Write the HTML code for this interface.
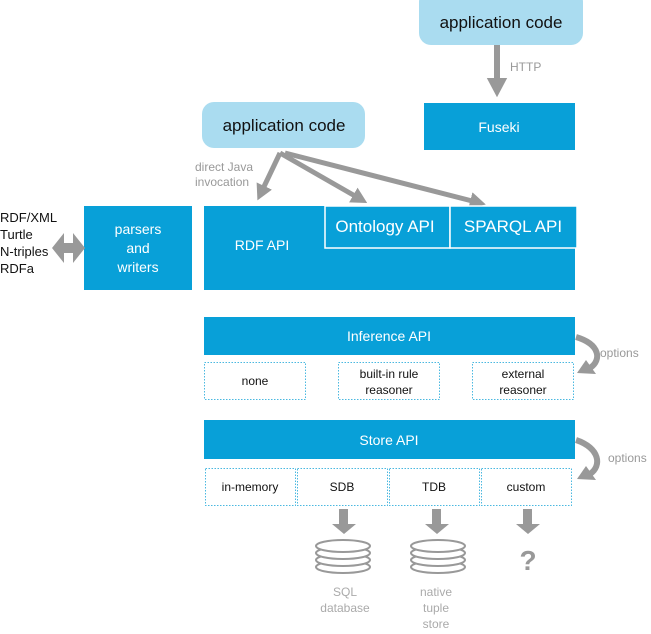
<!DOCTYPE html>
<html><head><meta charset="utf-8"><style>
body{margin:0;width:651px;height:629px;background:#fff;overflow:hidden;font-family:"Liberation Sans",sans-serif}
</style></head><body>
<svg width="651" height="629" xmlns="http://www.w3.org/2000/svg" font-family="Liberation Sans, sans-serif">
<defs>
<marker id="ah" markerWidth="4" markerHeight="4" refX="2" refY="2" orient="auto" markerUnits="strokeWidth"><path d="M0,0.3 L3.2,2 L0,3.7z" fill="#999"/></marker>
</defs>
<rect x="419" y="-10" width="164" height="55" rx="12" fill="#aadcf0"/>
<text x="501" y="28" font-size="17" text-anchor="middle" fill="#111">application code</text>
<line x1="497" y1="45" x2="497" y2="90" stroke="#999" stroke-width="6" marker-end="url(#ah)"/>
<text x="510" y="71" font-size="12" fill="#999">HTTP</text>
<rect x="424" y="103" width="151" height="47" fill="#08a0d8"/>
<text x="499" y="132" font-size="14" text-anchor="middle" fill="#fff">Fuseki</text>
<rect x="202" y="102" width="163" height="46" rx="12" fill="#aadcf0"/>
<text x="284" y="131" font-size="17" text-anchor="middle" fill="#111">application code</text>
<text x="195" y="171" font-size="12" fill="#999">direct Java</text>
<text x="195" y="186" font-size="12" fill="#999">invocation</text>
<line x1="280" y1="153" x2="260" y2="195" stroke="#999" stroke-width="5" marker-end="url(#ah)"/>
<line x1="280" y1="153" x2="362" y2="200" stroke="#999" stroke-width="5" marker-end="url(#ah)"/>
<line x1="285" y1="153" x2="480" y2="203" stroke="#999" stroke-width="5" marker-end="url(#ah)"/>
<rect x="204" y="206" width="371" height="84" fill="#08a0d8"/>
<rect x="325" y="206" width="125" height="42" fill="#08a0d8" stroke="#fff" stroke-width="1.5"/>
<rect x="450" y="206" width="127" height="42" fill="#08a0d8" stroke="#fff" stroke-width="1.5"/>
<text x="262" y="250" font-size="14" text-anchor="middle" fill="#fff">RDF API</text>
<text x="385" y="232" font-size="17" text-anchor="middle" fill="#fff">Ontology API</text>
<text x="513" y="232" font-size="17" text-anchor="middle" fill="#fff">SPARQL API</text>
<rect x="84" y="206" width="108" height="84" fill="#08a0d8"/>
<text x="138" y="234" font-size="14" text-anchor="middle" fill="#fff">parsers</text>
<text x="138" y="253" font-size="14" text-anchor="middle" fill="#fff">and</text>
<text x="138" y="272" font-size="14" text-anchor="middle" fill="#fff">writers</text>
<g font-size="13" fill="#111">
<text x="0" y="222">RDF/XML</text><text x="0" y="239">Turtle</text><text x="0" y="256">N-triples</text><text x="0" y="273">RDFa</text>
</g>
<path d="M52,248 L64,233 L64,243 L73,243 L73,233 L85,248 L73,263 L73,253 L64,253 L64,263z" fill="#999"/>
<rect x="204" y="317" width="371" height="38" fill="#08a0d8"/>
<text x="389" y="341" font-size="14" text-anchor="middle" fill="#fff">Inference API</text>
<g fill="none" stroke="#4ab8e0" stroke-dasharray="1.5,1.5" stroke-width="1">
<rect x="204.5" y="362.5" width="101" height="37"/><rect x="338.5" y="362.5" width="101" height="37"/><rect x="472.5" y="362.5" width="101" height="37"/>
<rect x="205.5" y="468.5" width="90" height="37"/><rect x="297.5" y="468.5" width="90" height="37"/><rect x="389.5" y="468.5" width="90" height="37"/><rect x="481.5" y="468.5" width="90" height="37"/>
</g>
<g font-size="12" fill="#111" text-anchor="middle">
<text x="255" y="385">none</text>
<text x="389" y="378">built-in rule</text><text x="389" y="394">reasoner</text>
<text x="523" y="378">external</text><text x="523" y="394">reasoner</text>
<text x="250" y="491">in-memory</text><text x="342" y="491">SDB</text><text x="434" y="491">TDB</text><text x="526" y="491">custom</text>
</g>
<path d="M576,337 C600,344 602,360 590,368" fill="none" stroke="#999" stroke-width="6"/>
<path d="M577,373 L586,360 L596,374z" fill="#999"/>
<text x="600" y="357" font-size="12" fill="#999">options</text>
<rect x="204" y="420" width="371" height="39" fill="#08a0d8"/>
<text x="389" y="445" font-size="14" text-anchor="middle" fill="#fff">Store API</text>
<path d="M576,440 C600,448 602,466 590,474" fill="none" stroke="#999" stroke-width="6"/>
<path d="M577,479 L586,466 L596,480z" fill="#999"/>
<text x="608" y="462" font-size="12" fill="#999">options</text>
<g fill="#999">
<path d="M339,509h9v15h8l-12,10l-12,-10h7z"/>
<path d="M432,509h9v15h8l-12,10l-12,-10h7z"/>
<path d="M523,509h9v15h8l-12,10l-12,-10h7z"/>
</g>
<g fill="#fff" stroke="#999" stroke-width="2">
<ellipse cx="343" cy="567" rx="27" ry="6"/><ellipse cx="343" cy="560" rx="27" ry="6"/><ellipse cx="343" cy="553" rx="27" ry="6"/><ellipse cx="343" cy="546" rx="27" ry="6"/>
<ellipse cx="438" cy="567" rx="27" ry="6"/><ellipse cx="438" cy="560" rx="27" ry="6"/><ellipse cx="438" cy="553" rx="27" ry="6"/><ellipse cx="438" cy="546" rx="27" ry="6"/>
</g>
<text x="528" y="570" font-size="28" font-weight="bold" text-anchor="middle" fill="#999">?</text>
<g font-size="12" fill="#aaa" text-anchor="middle">
<text x="345" y="596">SQL</text><text x="345" y="612">database</text>
<text x="436" y="596">native</text><text x="436" y="612">tuple</text><text x="436" y="628">store</text>
</g>
</svg>
</body></html>
